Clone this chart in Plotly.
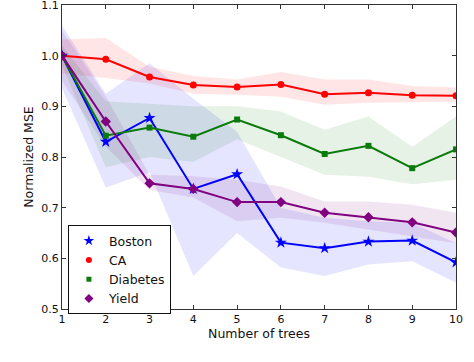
import plotly.graph_objects as go

trees = [1, 2, 3, 4, 5, 6, 7, 8, 9, 10]
y_ticks = [0.5, 0.6, 0.7, 0.8, 0.9, 1.0, 1.1]

boston = [1.0, 0.830, 0.877, 0.737, 0.766, 0.631, 0.620, 0.633, 0.635, 0.592]
boston_hi = [1.06, 0.925, 0.985, 0.915, 0.850, 0.700, 0.680, 0.673, 0.670, 0.630]
boston_lo = [0.935, 0.740, 0.770, 0.565, 0.650, 0.582, 0.565, 0.588, 0.594, 0.552]

ca = [1.0, 0.993, 0.958, 0.942, 0.938, 0.943, 0.924, 0.927, 0.922, 0.921]
ca_hi = [1.032, 1.035, 0.978, 0.960, 0.953, 0.968, 0.953, 0.953, 0.940, 0.937]
ca_lo = [0.965, 0.956, 0.945, 0.925, 0.923, 0.919, 0.903, 0.907, 0.908, 0.909]

diabetes = [1.0, 0.842, 0.858, 0.840, 0.874, 0.843, 0.806, 0.822, 0.778, 0.815]
diabetes_hi = [1.02, 0.910, 0.905, 0.900, 0.900, 0.890, 0.854, 0.880, 0.820, 0.880]
diabetes_lo = [0.98, 0.780, 0.800, 0.790, 0.835, 0.800, 0.765, 0.761, 0.746, 0.755]

yld = [1.0, 0.870, 0.748, 0.737, 0.711, 0.711, 0.690, 0.681, 0.671, 0.651]
yld_hi = [1.05, 0.920, 0.765, 0.762, 0.755, 0.742, 0.712, 0.712, 0.706, 0.690]
yld_lo = [0.95, 0.820, 0.735, 0.720, 0.673, 0.680, 0.670, 0.657, 0.643, 0.630]

series = [
    ("Boston", boston, boston_hi, boston_lo, "#0000ff", "rgba(0,0,255,0.10)", "star", 9),
    ("CA", ca, ca_hi, ca_lo, "#ff0000", "rgba(255,0,0,0.10)", "circle", 7),
    ("Diabetes", diabetes, diabetes_hi, diabetes_lo, "#0a7a0a", "rgba(0,128,0,0.10)", "square", 6),
    ("Yield", yld, yld_hi, yld_lo, "#800080", "rgba(128,0,128,0.10)", "diamond", 8),
]

fig = go.Figure()
for name, y, hi, lo, col, fcol, sym, sz in series:
    fig.add_trace(go.Scatter(
        x=trees + trees[::-1], y=hi + lo[::-1], fill="toself", fillcolor=fcol,
        line=dict(width=0), mode="lines", showlegend=False, hoverinfo="skip"))
for name, y, hi, lo, col, fcol, sym, sz in series:
    fig.add_trace(go.Scatter(
        x=trees, y=y, mode="lines+markers", name=name,
        line=dict(color=col, width=2),
        marker=dict(symbol=sym, size=sz, color=col), showlegend=False))
    fig.add_trace(go.Scatter(
        x=[None], y=[None], mode="markers", name=name,
        marker=dict(symbol=sym, size=sz - 1, color=col)))

axis_common = dict(showgrid=False, zeroline=False, showline=True, linecolor="#333",
                   linewidth=1, mirror="ticks", ticks="inside", ticklen=4,
                   tickcolor="#333", tickfont=dict(size=11, color="#111"),
                   automargin=False, ticklabeloverflow="allow")

fig.update_xaxes(range=[1, 10], tickvals=trees,
                 title=dict(text="Number of trees", font=dict(size=12.5, color="#111"), standoff=2),
                 **axis_common)
fig.update_yaxes(range=[0.5, 1.1], tickvals=y_ticks, tickformat=".1f",
                 title=dict(text="Normalized MSE", font=dict(size=12.5, color="#111"), standoff=4),
                 **axis_common)

fig.update_layout(
    width=474, height=362,
    margin=dict(l=62, r=18, t=5, b=53),
    paper_bgcolor="white", plot_bgcolor="white",
    font=dict(family="DejaVu Sans", color="#111"),
    legend=dict(x=0.015, y=0.276, xanchor="left", yanchor="top",
                bordercolor="#111", borderwidth=1, bgcolor="white",
                font=dict(size=12.5), tracegroupgap=0, itemsizing="trace",
                itemwidth=30),
)

fig.write_html("out.html", config={"displayModeBar": False},
               post_script="document.body.style.margin='0';")
